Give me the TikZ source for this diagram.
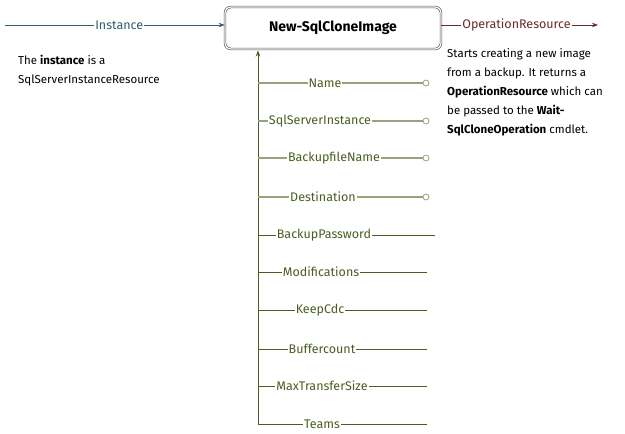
\documentclass[tikz,border=0pt]{standalone}
\usepackage{fontspec}
\setmainfont{Fira Sans}
\usetikzlibrary{arrows.meta}
\definecolor{teal1}{HTML}{2E5F6B}
\definecolor{red1}{HTML}{6B2A2A}
\definecolor{dg}{HTML}{4A5E23}
\definecolor{lg}{HTML}{95A57A}
\tikzset{
 lbl/.style={font=\fontsize{12.5}{14}\selectfont, text=dg, inner sep=1pt, fill=white},
 mand/.style={draw=lg, line width=1.2pt},
 opt/.style={draw=dg, line width=0.8pt},
 note/.style={font=\fontsize{11.5}{19}\selectfont, align=left, anchor=north west, inner sep=0pt}
}
\begin{document}
\begin{tikzpicture}[x=1pt,y=-1pt]
\useasboundingbox (0,0) rectangle (625,434);
\node[draw=black!70, double, double distance=1.2pt, line width=0.6pt, rounded corners=6pt, minimum width=216pt, minimum height=42pt, font=\fontsize{14}{16}\selectfont\bfseries] (box) at (333,28) {New-SqlCloneImage};
\coordinate (s) at (5,25);
\draw[teal1, line width=0.8pt, -{Stealth[length=6pt]}] (s) -- (box.west |- s) node[pos=0.52, fill=white, inner sep=1pt, text=teal1, font=\fontsize{12.5}{14}\selectfont] (inst) {Instance};
\coordinate (e) at (598,25);
\draw[red1, line width=0.8pt, -{Stealth[length=6pt]}] (box.east |- e) -- (e) node[pos=0.48, fill=white, inner sep=1pt, text=red1, font=\fontsize{12.5}{14}\selectfont] (opres) {OperationResource};
\node[note] (ln) at (18,55) {The \textbf{instance} is a\\SqlServerInstanceResource};
\node[note] (rn) at (447,48) {Starts creating a new image\\from a backup. It returns a\\\textbf{OperationResource} which can\\be passed to the \textbf{Wait-}\\\textbf{SqlCloneOperation} cmdlet.};
\coordinate (vb) at (258,425);
\draw[dg, line width=1pt, -{Stealth[length=6pt]}] (vb) -- (258,50.5);
\foreach \n/\y/\x/\e/\t in {a/83/325/426/Name, b/121/320/426/SqlServerInstance, c/158/334/426/BackupfileName, d/197/323/426/Destination}{
 \coordinate (\n0) at (258,\y);
 \coordinate (\n1) at (\e,\y);
 \draw[mand] (\n0) -- (\n1);
 \draw[lg, line width=0.8pt, fill=white] (\n1) circle (3pt);
 \node[lbl] (\n) at (\x,\y) {\t};
}
\foreach \n/\y/\x/\e/\t in {f/235/324/435/BackupPassword, g/272/321/427/Modifications, h/310/320/427/KeepCdc, i/349/322/427/Buffercount, j/386/322/427/MaxTransferSize, k/424/322/427/Teams}{
 \coordinate (\n0) at (258,\y);
 \coordinate (\n1) at (\e,\y);
 \draw[opt] (\n0) -- (\n1);
 \node[lbl] (\n) at (\x,\y) {\t};
}
\end{tikzpicture}
\end{document}
